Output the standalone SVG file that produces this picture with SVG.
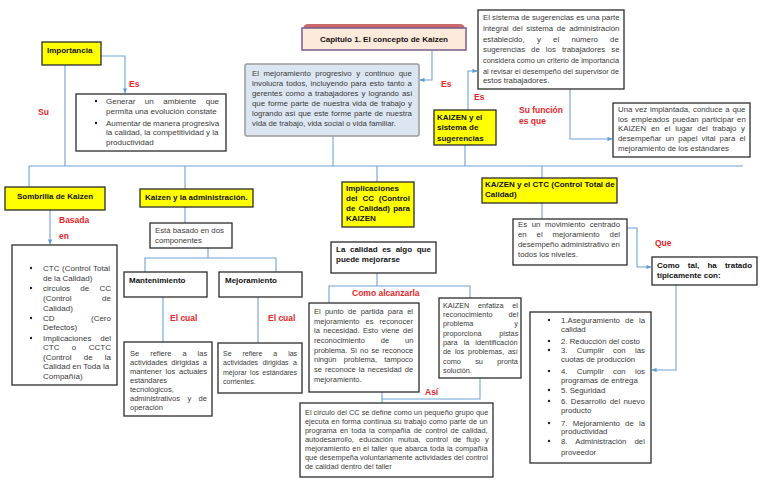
<svg xmlns="http://www.w3.org/2000/svg" width="768" height="485" viewBox="0 0 768 485">
<defs>
<marker id="ar" viewBox="0 0 6 6" refX="5.5" refY="3" markerWidth="5" markerHeight="5" orient="auto" markerUnits="userSpaceOnUse">
<path d="M0,0.5 L6,3 L0,5.5 z" fill="#5b9bd5"/>
</marker>
<style>
.c{fill:none;stroke:#6fa2d8;stroke-width:1.1}
.ca{fill:none;stroke:#6fa2d8;stroke-width:1.1;marker-end:url(#ar)}
.box{fill:#fff;stroke:#2b2b2b;stroke-width:1.3}
.yb{fill:#ffff00;stroke:#2b2b2b;stroke-width:1.3}
text{font-family:"Liberation Sans",Arial,sans-serif;fill:#3a3a3a}
.b{font-weight:bold;font-size:8px;fill:#111}
.r{font-weight:bold;font-size:8.5px;fill:#e8262a}
.t8{font-size:7.8px}
.t80{font-size:8px}
.t75{font-size:7.5px}
.t74{font-size:7.4px}
.t73{font-size:7.3px}
.t7{font-size:7px}
.dot{fill:#222}
</style>
</defs>
<rect width="768" height="485" fill="#fff"/>

<g id="connectors">
<polyline class="ca" points="101,56 125,56 125,93"/>
<line class="c" x1="65" y1="65" x2="65" y2="166"/>
<line class="c" x1="29" y1="166" x2="743" y2="166"/>
<line class="c" x1="333" y1="136" x2="333" y2="166"/>
<line class="c" x1="465" y1="145" x2="465" y2="166"/>
<polyline class="ca" points="432,51 432,80 420,80"/>
<polyline class="ca" points="468,110 468,71 477,71"/>
<polyline class="ca" points="570,89 570,139 612,139"/>
<line class="c" x1="29" y1="166" x2="29" y2="187"/>
<line class="c" x1="185" y1="166" x2="185" y2="189"/>
<line class="c" x1="377" y1="166" x2="377" y2="182"/>
<line class="c" x1="542" y1="166" x2="542" y2="178"/>
<line class="ca" x1="50" y1="210" x2="50" y2="244"/>
<line class="c" x1="185" y1="207" x2="185" y2="223"/>
<line class="c" x1="208" y1="248" x2="208" y2="258"/>
<polyline class="c" points="145,272 145,258 276,258 276,272"/>
<line class="c" x1="163" y1="297" x2="163" y2="342"/>
<line class="c" x1="258" y1="297" x2="258" y2="343"/>
<line class="c" x1="377" y1="273" x2="377" y2="286"/>
<polyline class="c" points="329,303 329,286 470,286 470,298"/>
<polyline class="c" points="382,392 382,399 480,399 480,378"/>
<line class="c" x1="382" y1="399" x2="382" y2="403"/>
<line class="c" x1="542" y1="203" x2="542" y2="219"/>
<polyline class="ca" points="627,228 637,228 637,267 651,267"/>
<polyline class="ca" points="676,285 676,370 652,370"/>
</g>

<g id="labels">
<text class="r" x="129" y="87">Es</text>
<text class="r" x="38" y="115">Su</text>
<text class="r" x="441" y="87">Es</text>
<text class="r" x="474" y="100">Es</text>
<text class="r" x="519" y="113">Su función</text>
<text class="r" x="519" y="124">es que</text>
<text class="r" x="59" y="223">Basada</text>
<text class="r" x="59" y="239">en</text>
<text class="r" x="170" y="321">El cual</text>
<text class="r" x="268" y="321">El cual</text>
<text class="r" x="352" y="296">Como alcanzarla</text>
<text class="r" x="425" y="395">Así</text>
<text class="r" x="655" y="246">Que</text>
</g>

<g id="capitulo">
<rect x="303" y="24" width="162" height="24" rx="5" fill="#c0504d" opacity="0.85"/>
<rect x="302" y="28" width="164" height="22" fill="#fdeada" stroke="#7a5a8c" stroke-width="1.5"/>
<text class="b" x="384" y="42" text-anchor="middle">Capitulo 1. El concepto de Kaizen</text>
</g>

<g id="importancia">
<rect class="yb" x="42" y="42" width="59" height="23"/>
<text class="b" x="47" y="53">Importancia</text>
</g>

<g id="importancia-es" class="t80">
<rect class="box" x="76" y="94" width="150" height="57"/>
<circle class="dot" cx="96" cy="101" r="1.2"/>
<circle class="dot" cx="96" cy="123" r="1.2"/>
<text class="t80" x="106" y="104" word-spacing="7.3">Generar un ambiente que</text>
<text class="t80" x="106" y="114">permita una evolución constate</text>
<text class="t80" x="106" y="126" word-spacing="-0.5">Aumentar de manera progresiva</text>
<text class="t80" x="106" y="135">la calidad, la competitividad y la</text>
<text class="t80" x="106" y="145">productividad</text>
</g>

<g id="mejoramiento">
<rect x="245" y="64" width="174" height="72" rx="2" fill="#dce6f2" stroke="#9a9a9a" stroke-width="1.5"/>
<text class="t8" x="252" y="76" word-spacing="2.4">El mejoramiento progresivo y continuo que</text>
<text class="t8" x="252" y="86" word-spacing="0.85">involucra todos, incluyendo para esto tanto a</text>
<text class="t8" x="252" y="96" word-spacing="0.95">gerentes como a trabajadores y logrando así</text>
<text class="t8" x="252" y="106" word-spacing="0.8">que forme parte de nuestra vida de trabajo y</text>
<text class="t8" x="252" y="116" word-spacing="0.55">logrando así que este forme parte de nuestra</text>
<text class="t8" x="252" y="126">vida de trabajo, vida social o vida familiar.</text>
</g>

<g id="kaizen-sugerencias">
<rect class="yb" x="434" y="110" width="62" height="35"/>
<text class="b" x="437" y="120">KAIZEN y el</text>
<text class="b" x="437" y="130">sistema de</text>
<text class="b" x="437" y="141">sugerencias</text>
</g>

<g id="sugerencias">
<rect class="box" x="478" y="10" width="146" height="79"/>
<text class="t8" x="483" y="20">El sistema de sugerencias es una parte</text>
<text class="t8" x="483" y="31" word-spacing="1.5">integral del sistema de administración</text>
<text class="t8" x="483" y="42" word-spacing="10.1">establecido, y el número de</text>
<text class="t8" x="483" y="52" word-spacing="3.9">sugerencias de los trabajadores se</text>
<text class="t8" x="483" y="63" textLength="136" lengthAdjust="spacingAndGlyphs">considera como un criterio de importancia</text>
<text class="t8" x="483" y="74" textLength="136" lengthAdjust="spacingAndGlyphs">al revisar el desempeño del supervisor de</text>
<text class="t8" x="483" y="83">estos trabajadores.</text>
</g>

<g id="una-vez">
<rect class="box" x="613" y="103" width="137" height="54"/>
<text class="t8" x="618" y="112" word-spacing="0.6">Una vez implantada, conduce a que</text>
<text class="t8" x="618" y="122" word-spacing="1.05">los empleados puedan participar en</text>
<text class="t8" x="618" y="131" word-spacing="2.6">KAIZEN en el lugar del trabajo y</text>
<text class="t8" x="618" y="141" word-spacing="2">desempeñar un papel vital para el</text>
<text class="t8" x="618" y="151">mejoramiento de los estándares</text>
</g>

<g id="sombrilla">
<rect class="yb" x="5" y="187" width="100" height="23"/>
<text class="b" x="17" y="199">Sombrilla de Kaizen</text>
</g>

<g id="sombrilla-lista">
<rect class="box" x="12" y="245" width="105" height="140"/>
<circle class="dot" cx="31" cy="268" r="1.2"/>
<circle class="dot" cx="31" cy="288" r="1.2"/>
<circle class="dot" cx="31" cy="318" r="1.2"/>
<circle class="dot" cx="31" cy="338" r="1.2"/>
<text class="t80" x="43" y="271" word-spacing="0.45">CTC (Control Total</text>
<text class="t80" x="43" y="281">de la Calidad)</text>
<text class="t80" x="43" y="291" word-spacing="8">circulos de CC</text>
<text class="t80" x="43" y="301" word-spacing="28.4">(Control de</text>
<text class="t80" x="43" y="311">Calidad)</text>
<text class="t80" x="43" y="321" word-spacing="34.2">CD (Cero</text>
<text class="t80" x="43" y="330">Defectos)</text>
<text class="t80" x="43" y="341" word-spacing="6.6">Implicaciones del</text>
<text class="t80" x="43" y="350" word-spacing="10.2">CTC o CCTC</text>
<text class="t80" x="43" y="360" word-spacing="10">(Control de la</text>
<text class="t80" x="43" y="369">Calidad en Toda la</text>
<text class="t80" x="43" y="379">Compañía)</text>
</g>

<g id="kaizen-admin">
<rect class="yb" x="140" y="189" width="113" height="18"/>
<text class="b" x="145" y="200">Kaizen y la administración.</text>
</g>

<g id="componentes">
<rect class="box" x="150" y="223" width="82" height="25"/>
<text class="t8" x="155" y="233">Está basado en dos</text>
<text class="t8" x="155" y="243">componentes</text>
</g>

<g id="mantenimiento">
<rect class="box" x="124" y="272" width="83" height="25"/>
<text class="b" x="129" y="283">Mantenimiento</text>
</g>

<g id="mejoramiento-comp">
<rect class="box" x="219" y="272" width="83" height="25"/>
<text class="b" x="225" y="283">Mejoramiento</text>
</g>

<g id="mantenimiento-desc">
<rect class="box" x="124" y="342" width="88" height="74"/>
<text class="t75" x="130" y="356" word-spacing="8.9">Se refiere a las</text>
<text class="t75" x="130" y="365" word-spacing="1.6">actividades dirigidas a</text>
<text class="t75" x="130" y="374" word-spacing="1.8">mantener los actuales</text>
<text class="t75" x="130" y="383">estándares</text>
<text class="t75" x="130" y="392">tecnológicos,</text>
<text class="t75" x="130" y="401" word-spacing="5.3">administrativos y de</text>
<text class="t75" x="130" y="410">operación</text>
</g>

<g id="mejoramiento-desc">
<rect class="box" x="218" y="343" width="84" height="50"/>
<text class="t7" x="223" y="356" word-spacing="9">Se refiere a las</text>
<text class="t7" x="223" y="365" word-spacing="2.5">actividades dirigidas a</text>
<text class="t7" x="223" y="375" word-spacing="1.4">mejorar los estándares</text>
<text class="t7" x="223" y="384">corrientes.</text>
</g>

<g id="implicaciones">
<rect class="yb" x="342" y="182" width="72" height="45"/>
<text class="b" x="346" y="191">Implicaciones</text>
<text class="b" x="346" y="201" word-spacing="2.6">del CC (Control</text>
<text class="b" x="346" y="211" word-spacing="0.9">de Calidad) para</text>
<text class="b" x="346" y="221">KAIZEN</text>
</g>

<g id="calidad">
<rect class="box" x="331" y="242" width="105" height="31"/>
<text class="b" x="336" y="252" word-spacing="2.4">La calidad es algo que</text>
<text class="b" x="336" y="262">puede mejorarse</text>
</g>

<g id="punto-partida">
<rect class="box" x="309" y="303" width="110" height="89"/>
<text class="t75" x="314" y="314" word-spacing="2.2">El punto de partida para el</text>
<text class="t75" x="314" y="324" word-spacing="4">mejoramiento es reconocer</text>
<text class="t75" x="314" y="333" word-spacing="1.4">la necesidad. Esto viene del</text>
<text class="t75" x="314" y="343" word-spacing="13.8">reconocimiento de un</text>
<text class="t75" x="314" y="353" word-spacing="0.9">problema. Si no se reconoce</text>
<text class="t75" x="314" y="362" word-spacing="5.1">ningún problema, tampoco</text>
<text class="t75" x="314" y="372" word-spacing="0.9">se reconoce la necesidad de</text>
<text class="t75" x="314" y="382">mejoramiento.</text>
</g>

<g id="kaizen-enfatiza">
<rect class="box" x="439" y="298" width="82" height="80"/>
<text class="t73" x="443" y="308" word-spacing="6.6">KAIZEN enfatiza el</text>
<text class="t73" x="443" y="317" word-spacing="14">reconocimiento del</text>
<text class="t73" x="443" y="326" word-spacing="38.8">problema y</text>
<text class="t73" x="443" y="336" word-spacing="15.7">proporciona pistas</text>
<text class="t73" x="443" y="345" word-spacing="4">para la identificación</text>
<text class="t73" x="443" y="354" word-spacing="1.8">de los problemas, así</text>
<text class="t73" x="443" y="364" word-spacing="12.3">como su pronta</text>
<text class="t73" x="443" y="373">solución.</text>
</g>

<g id="circulo">
<rect class="box" x="300" y="403" width="193" height="74"/>
<text class="t74" x="305" y="415">El circulo del CC se define como un pequeño grupo que</text>
<text class="t74" x="305" y="424" word-spacing="0.4">ejecuta en forma continua su trabajo como parte de un</text>
<text class="t74" x="305" y="433" word-spacing="1.2">programa en toda la compañía de control de calidad,</text>
<text class="t74" x="305" y="442" word-spacing="3.1">autodesarrollo, educación mutua, control de flujo y</text>
<text class="t74" x="305" y="451" word-spacing="0.5">mejoramiento en el taller que abarca toda la compañía</text>
<text class="t74" x="305" y="460">que desempeña voluntariamente actividades del control</text>
<text class="t74" x="305" y="469">de calidad dentro del taller</text>
</g>

<g id="kaizen-ctc">
<rect class="yb" x="482" y="178" width="135" height="25"/>
<text class="b" x="485" y="187">KA/ZEN y el CTC (Control Total de</text>
<text class="b" x="485" y="197">Calidad)</text>
</g>

<g id="movimiento">
<rect class="box" x="513" y="219" width="114" height="46"/>
<text class="t8" x="518" y="227" word-spacing="2.5">Es un movimiento centrado</text>
<text class="t8" x="518" y="237" word-spacing="7.7">en el mejoramiento del</text>
<text class="t8" x="518" y="247">desempeño administrativo en</text>
<text class="t8" x="518" y="257">todos los niveles.</text>
</g>

<g id="como-tal">
<rect class="box" x="652" y="257" width="105" height="28"/>
<text class="b" x="657" y="268" word-spacing="5.9">Como tal, ha tratado</text>
<text class="b" x="657" y="278">típicamente con:</text>
</g>

<g id="lista-ctc">
<rect class="box" x="530" y="312" width="121" height="151"/>
<g class="dot">
<circle cx="549" cy="320" r="1.2"/>
<circle cx="549" cy="341" r="1.2"/>
<circle cx="549" cy="350" r="1.2"/>
<circle cx="549" cy="371" r="1.2"/>
<circle cx="549" cy="390" r="1.2"/>
<circle cx="549" cy="401" r="1.2"/>
<circle cx="549" cy="423" r="1.2"/>
<circle cx="549" cy="441" r="1.2"/>
</g>
<text class="t8" x="561" y="323" word-spacing="3">1.Aseguramiento de la</text>
<text class="t8" x="561" y="332">calidad</text>
<text class="t8" x="561" y="344">2. Reducción del costo</text>
<text class="t8" x="561" y="353" word-spacing="7.2">3. Cumplir con las</text>
<text class="t8" x="561" y="362">cuotas de producción</text>
<text class="t8" x="561" y="374" word-spacing="7.2">4. Cumplir con los</text>
<text class="t8" x="561" y="383">programas de entrega</text>
<text class="t8" x="561" y="393">5. Seguridad</text>
<text class="t8" x="561" y="404" word-spacing="1.2">6. Desarrollo del nuevo</text>
<text class="t8" x="561" y="413">producto</text>
<text class="t8" x="561" y="426" word-spacing="3">7. Mejoramiento de la</text>
<text class="t8" x="561" y="434">productividad</text>
<text class="t8" x="561" y="444" word-spacing="6">8. Administración del</text>
<text class="t8" x="561" y="455">proveedor</text>
</g>
</svg>
